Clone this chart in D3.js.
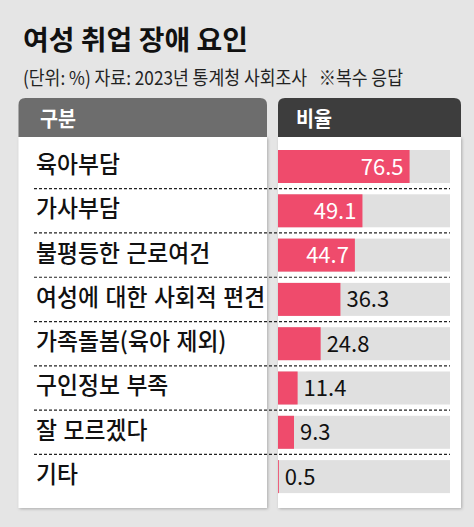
<!DOCTYPE html>
<html><head><meta charset="utf-8">
<script src="https://cdn.jsdelivr.net/npm/d3@7"></script>
<style>
html,body{margin:0;padding:0;background:#e5e5e5;}
svg{display:block;}
text{font-family:"Noto Sans CJK KR","Noto Sans",sans-serif;}
</style></head>
<body><svg id="c" width="474" height="527"></svg>
<script>
const title = "여성 취업 장애 요인";
const subtitle = "(단위: %) 자료: 2023년 통계청 사회조사   ※복수 응답";
const headers = ["구분", "비율"];
const categories = ["육아부담","가사부담","불평등한 근로여건","여성에 대한 사회적 편견","가족돌봄(육아 제외)","구인정보 부족","잘 모르겠다","기타"];
const values = [76.5, 49.1, 44.7, 36.3, 24.8, 11.4, 9.3, 0.5];
const labels = ["76.5","49.1","44.7","36.3","24.8","11.4","9.3","0.5"];

(function(){
const svg = d3.select("#c");
const W = 474, H = 527;
svg.append("rect").attr("width",W).attr("height",H).attr("fill","#e5e5e5");

const defs = svg.append("defs");
const f = defs.append("filter").attr("id","sh").attr("x","-10%").attr("y","-10%").attr("width","130%").attr("height","130%");
f.append("feDropShadow").attr("dx",1).attr("dy",1).attr("stdDeviation",1.5).attr("flood-color","#000").attr("flood-opacity",0.25);

svg.append("text").attr("x",23).attr("y",50).attr("font-size",27).attr("font-weight",700)
  .attr("fill","#111").attr("textLength",225).attr("lengthAdjust","spacingAndGlyphs").text(title);
svg.append("text").attr("x",23).attr("y",85).attr("font-size",19).attr("fill","#222")
  .style("white-space","pre")
  .attr("textLength",380).attr("lengthAdjust","spacingAndGlyphs").text(subtitle);

const pTop = 98, hdrH = 39, pBottom = 508;
const panels = [{x0:18.5,x1:267,c:"#6d6d6d",tx:40},{x0:278,x1:461,c:"#3d3d3d",tx:296}];
panels.forEach((p,i)=>{
  const g = svg.append("g");
  g.append("rect").attr("x",p.x0).attr("y",pTop+hdrH).attr("width",p.x1-p.x0).attr("height",pBottom-pTop-hdrH)
    .attr("fill","#fff").attr("filter","url(#sh)");
  const r = 7;
  g.append("path").attr("d",`M${p.x0},${pTop+hdrH}V${pTop+r}Q${p.x0},${pTop} ${p.x0+r},${pTop}H${p.x1-r}Q${p.x1},${pTop} ${p.x1},${pTop+r}V${pTop+hdrH}Z`)
    .attr("fill",p.c);
  g.append("text").attr("x",p.tx).attr("y",pTop+28).attr("font-size",21).attr("font-weight",700)
    .attr("fill","#fff").attr("textLength",36).attr("lengthAdjust","spacingAndGlyphs").text(headers[i]);
});

const y = d3.scaleBand().domain(categories).range([144.35, 144.35+8*44.3]).paddingInner(0.255).paddingOuter(0.1275);
const x = d3.scaleLinear().domain([0,100]).range([278,450]);

categories.slice(0,-1).forEach(c=>{
  const yy = y(c)+y.bandwidth()+(y.step()-y.bandwidth())/2;
  svg.append("line").attr("x1",34).attr("x2",450).attr("y1",yy).attr("y2",yy)
    .attr("stroke","#222").attr("stroke-width",1.2).attr("stroke-dasharray","3,2");
});

svg.selectAll("text.cat").data(categories).join("text").attr("class","cat")
  .attr("x",36).attr("y",d=>y(d)+y.bandwidth()/2+6.5).attr("font-size",24).attr("font-weight",500).attr("fill","#111")
  .attr("transform","translate(36,0) scale(0.95,1) translate(-36,0)")
  .attr("word-spacing",1.5)
  .text(d=>d);

svg.selectAll("rect.track").data(categories).join("rect").attr("class","track")
  .attr("x",x(0)).attr("y",d=>y(d)).attr("width",x(100)-x(0)).attr("height",y.bandwidth()).attr("fill","#e0e0e0");
svg.selectAll("rect.bar").data(values).join("rect").attr("class","bar")
  .attr("x",x(0)).attr("y",(d,i)=>y(categories[i])).attr("width",d=>x(d)-x(0)).attr("height",y.bandwidth()).attr("fill","#ef4b6c");
svg.selectAll("text.val").data(values).join("text").attr("class","val")
  .attr("x",d=> d>40 ? x(d)-6 : x(d)+6)
  .attr("text-anchor",d=> d>40 ? "end":"start")
  .attr("y",(d,i)=>y(categories[i])+y.bandwidth()/2+8)
  .attr("font-size",22).attr("font-family","'Liberation Sans',Arial,sans-serif")
  .attr("fill",d=> d>40 ? "#fff":"#111")
  .text((d,i)=>labels[i]);
})();
</script></body></html>
